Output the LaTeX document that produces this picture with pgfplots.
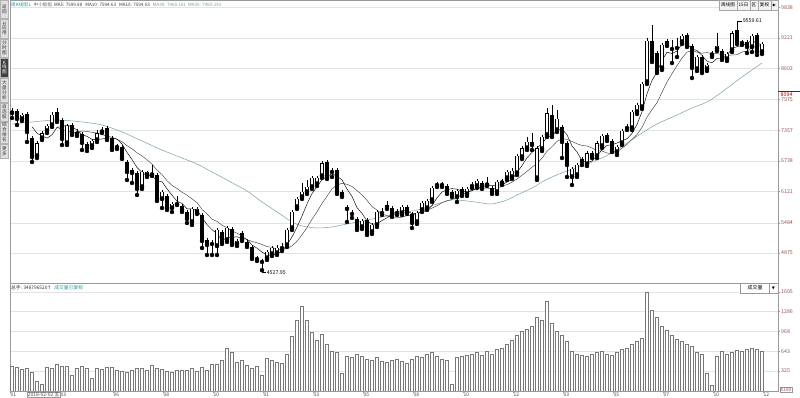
\documentclass[border=0pt]{standalone}
\usepackage{pgfplots}
\usepackage{pgfplotstable}
\pgfplotsset{compat=1.18}
\usepackage{fontspec}
\setmainfont{Noto Sans CJK SC}
\newfontfamily\sym{DejaVu Sans}
\definecolor{labred}{RGB}{160,80,80}
\definecolor{ma30}{RGB}{120,165,140}
\definecolor{teal2}{RGB}{40,150,160}
\definecolor{volgray}{RGB}{120,120,120}

\pgfplotstableread{
i o h l c
0 7703 7804 7602 7744
1 7744 7784 7461 7582
2 7582 7703 7542 7663
3 7683 7724 7118 7320
4 7198 7239 6714 6815
5 6835 7138 6794 7097
6 7198 7340 7158 7299
7 7340 7481 7299 7441
8 7461 7724 7421 7663
9 7724 7804 7522 7562
10 7562 7602 7057 7178
11 7097 7481 7057 7441
12 7461 7501 7259 7299
13 7279 7380 7239 7320
14 7279 7320 6956 7097
15 7077 7118 6936 6996
16 7037 7178 6996 7138
17 7158 7360 7118 7299
18 7320 7421 7299 7360
19 7400 7441 7158 7198
20 7198 7239 6956 6996
21 7037 7077 6976 7017
22 7017 7057 6774 6815
23 6714 6754 6350 6512
24 6552 6592 6290 6491
25 6491 6532 6047 6168
26 6209 6552 6168 6512
27 6451 6532 6411 6512
28 6451 6653 6431 6491
29 6451 6491 5926 5966
30 5966 6148 5784 6108
31 6027 6067 5744 5784
32 5784 5906 5704 5865
33 5865 6027 5845 5885
34 5825 5865 5704 5744
35 5704 5744 5481 5562
36 5502 5805 5441 5764
37 5704 5805 5663 5764
38 5643 5683 4976 5118
39 5138 5178 4835 5037
40 5077 5138 4835 5057
41 5017 5380 4835 5340
42 5300 5340 5057 5098
43 5138 5421 5098 5380
44 5360 5401 5037 5077
45 5057 5158 5017 5118
46 5279 5320 5118 5158
47 5098 5138 4997 5037
48 4997 5037 4754 4795
49 4774 4815 4714 4754
50 4694 4754 4528 4714
51 4774 4936 4734 4896
52 4855 5017 4815 4976
53 4875 5037 4835 4976
54 4976 5077 4916 4997
55 5037 5380 4997 5340
56 5380 5744 5340 5704
57 5805 6007 5764 5966
58 6007 6290 5966 6108
59 6108 6350 6067 6209
60 6209 6431 6168 6390
61 6269 6431 6229 6390
62 6431 6734 6390 6693
63 6714 6754 6370 6411
64 6532 6592 6411 6512
65 6552 6592 6067 6108
66 6108 6148 6007 6047
67 5805 5845 5502 5764
68 5683 5744 5582 5663
69 5562 5603 5340 5380
70 5401 5562 5360 5522
71 5542 5582 5239 5279
72 5300 5481 5259 5441
73 5441 5744 5401 5704
74 5683 5784 5643 5704
75 5845 5926 5764 5805
76 5784 5825 5603 5643
77 5683 5764 5643 5704
78 5683 5845 5643 5805
79 5805 5845 5663 5704
80 5663 5704 5380 5481
81 5502 5724 5461 5683
82 5744 5926 5704 5885
83 5784 5966 5744 5926
84 5946 6229 5906 6188
85 6249 6310 6209 6269
86 6249 6310 6209 6269
87 6229 6269 6067 6108
88 6108 6148 6007 6047
89 6007 6168 5906 6128
90 6168 6209 6027 6067
91 6067 6209 6027 6168
92 6229 6310 6188 6249
93 6229 6370 6188 6330
94 6290 6330 6168 6209
95 6249 6411 6229 6290
96 6188 6229 6067 6108
97 6108 6350 6067 6310
98 6290 6370 6249 6330
99 6390 6552 6350 6512
100 6411 6592 6370 6532
101 6491 6875 6451 6835
102 6815 7037 6774 6996
103 6996 7219 6956 7118
104 7118 7299 6956 7057
105 6390 7037 6350 6996
106 6976 7259 6936 7219
107 7259 7804 7219 7703
108 7663 7865 7219 7259
109 7360 7764 7320 7582
110 7421 7461 6794 7118
111 7097 7138 6411 6653
112 6411 6613 6249 6572
113 6451 6693 6411 6653
114 6774 6815 6653 6714
115 6673 6936 6633 6895
116 6895 6936 6794 6835
117 6835 7138 6794 7097
118 7037 7279 6996 7239
119 7259 7299 7138 7178
120 7138 7178 6916 6956
121 6916 7057 6855 7017
122 7097 7380 7057 7340
123 7400 7481 7360 7421
124 7400 7764 7360 7724
125 7724 7905 7683 7865
126 7825 8330 7784 8289
127 8330 9218 8289 9158
128 9158 9481 8734 8774
129 8915 8956 8511 8552
130 8612 9117 8572 9077
131 9158 9198 9057 9097
132 8996 9178 8713 9016
133 9016 9218 8835 9037
134 9138 9299 9097 9259
135 9279 9319 9037 9077
136 9057 9097 8410 8612
137 8592 8875 8552 8835
138 8835 8875 8511 8552
139 8592 8713 8552 8673
140 8875 8956 8835 8915
141 8996 9319 8956 9057
142 8956 8996 8774 8814
143 8794 8936 8754 8895
144 8976 9360 8936 9319
145 9380 9560 9097 9138
146 9117 9178 9077 9138
147 9138 9178 8915 9037
148 9037 9299 8936 9259
149 9279 9319 8875 8936
150 8936 9138 8895 9097
}\candles

\pgfplotstableread{
i v
4 7425
5 7295
6 7239
7 7194
8 7263
9 7413
10 7429
11 7457
12 7429
13 7360
14 7267
15 7231
16 7170
17 7170
18 7178
19 7198
20 7198
21 7174
22 7077
23 6908
24 6766
25 6601
26 6500
27 6439
28 6435
29 6330
30 6318
31 6172
32 6043
33 5922
34 5877
35 5768
36 5764
37 5744
38 5591
39 5449
40 5348
41 5263
42 5130
43 5182
44 5191
45 5203
46 5166
47 5154
48 5037
49 4972
50 4892
51 4839
52 4827
53 4863
54 4912
55 5037
56 5199
57 5396
58 5623
59 5865
60 6075
61 6213
62 6358
63 6419
64 6479
65 6423
66 6354
67 6168
68 6019
69 5792
70 5675
71 5522
72 5457
73 5465
74 5530
75 5586
76 5659
77 5712
78 5732
79 5732
80 5667
81 5675
82 5712
83 5736
84 5833
85 5990
86 6108
87 6152
88 6176
89 6164
90 6124
91 6104
92 6132
93 6188
94 6205
95 6249
96 6237
97 6249
98 6249
99 6310
100 6358
101 6504
102 6641
103 6798
104 6908
105 7000
106 7077
107 7219
108 7247
109 7352
110 7376
111 7263
112 7037
113 6916
114 6742
115 6697
116 6734
117 6839
118 6956
119 7049
120 7061
121 7097
122 7146
123 7182
124 7291
125 7473
126 7728
127 8091
128 8362
129 8528
130 8770
131 8932
132 8903
133 8956
134 9097
135 9097
136 9000
137 8964
138 8867
139 8750
140 8717
141 8806
142 8802
143 8871
144 9000
145 9045
146 9061
147 9105
148 9178
149 9101
150 9093
}\mafive

\pgfplotstableread{
i v
9 7419
10 7362
11 7348
12 7312
13 7312
14 7340
15 7330
16 7314
17 7299
18 7269
19 7233
20 7215
21 7172
22 7124
23 7043
24 6982
25 6899
26 6837
27 6758
28 6671
29 6548
30 6459
31 6336
32 6241
33 6178
34 6104
35 6043
36 5968
37 5893
38 5756
39 5663
40 5558
41 5514
42 5437
43 5387
44 5320
45 5275
46 5215
47 5142
48 5110
49 5081
50 5047
51 5003
52 4991
53 4950
54 4942
55 4964
56 5019
57 5112
58 5243
59 5388
60 5556
61 5706
62 5877
63 6021
64 6172
65 6249
66 6283
67 6263
68 6219
69 6136
70 6049
71 5938
72 5813
73 5742
74 5661
75 5631
76 5590
77 5584
78 5599
79 5631
80 5627
81 5667
82 5712
83 5734
84 5782
85 5829
86 5891
87 5932
88 5956
89 5999
90 6057
91 6106
92 6142
93 6182
94 6184
95 6186
96 6170
97 6190
98 6219
99 6257
100 6304
101 6370
102 6445
103 6524
104 6609
105 6679
106 6790
107 6930
108 7023
109 7130
110 7188
111 7170
112 7128
113 7081
114 7047
115 7037
116 6998
117 6938
118 6936
119 6895
120 6879
121 6916
122 6992
123 7069
124 7170
125 7267
126 7413
127 7619
128 7772
129 7909
130 8122
131 8330
132 8497
133 8659
134 8812
135 8934
136 8966
137 8934
138 8911
139 8923
140 8907
141 8903
142 8883
143 8869
144 8875
145 8881
146 8934
147 8954
148 9024
149 9051
150 9069
}\maten

\pgfplotstableread{
i v
0 7481
4 7522
9 7562
14 7522
18 7461
22 7320
26 7138
30 6956
34 6794
37 6673
40 6512
43 6350
47 6128
50 5906
53 5704
56 5502
58 5421
61 5380
64 5401
67 5461
70 5522
73 5582
76 5643
79 5704
82 5764
85 5865
88 5946
91 5926
94 5885
96 5865
99 5946
101 6047
104 6188
106 6310
108 6411
111 6532
114 6633
117 6754
120 6895
123 7097
126 7299
129 7481
133 7663
136 7804
139 7926
142 8128
146 8431
150 8713
}\mathirty

\pgfplotstableread{
i v
0 394
1 384
2 351
3 362
4 308
5 162
6 113
7 384
8 367
9 437
10 405
11 405
12 259
13 367
14 405
15 373
16 200
17 367
18 351
19 384
20 384
21 330
22 313
23 297
24 340
25 373
26 367
27 340
28 416
29 362
30 351
31 324
32 297
33 330
34 330
35 330
36 373
37 324
38 384
39 340
40 437
41 437
42 502
43 691
44 621
45 459
46 502
47 421
48 367
49 405
50 259
51 529
52 502
53 459
54 448
55 600
56 891
57 1140
58 1380
59 1150
60 950
61 820
62 920
63 760
64 650
65 620
66 280
67 560
68 540
69 600
70 560
71 520
72 500
73 540
74 480
75 460
76 500
77 520
78 480
79 450
80 520
81 560
82 540
83 600
84 620
85 560
86 520
87 500
88 110
89 540
90 560
91 580
92 600
93 620
94 580
95 640
96 600
97 680
98 700
99 760
100 820
101 900
102 960
103 1000
104 1050
105 1200
106 1150
107 1450
108 1100
109 960
110 900
111 800
112 640
113 600
114 580
115 560
116 600
117 620
118 640
119 600
120 580
121 620
122 680
123 700
124 760
125 800
126 860
127 1605
128 1300
129 1200
130 1050
131 980
132 900
133 840
134 800
135 760
136 720
137 620
138 600
139 280
140 100
141 560
142 640
143 600
144 620
145 660
146 650
147 680
148 690
149 670
150 640
}\volume

\begin{document}
\begin{tikzpicture}[x=1bp,y=1bp]
\path[use as bounding box] (0bp,0bp) rectangle (800bp,398bp);
\fill[white] (0bp,0bp) rectangle (800bp,398bp);

% ---------------- price panel ----------------
\begin{axis}[
  at={(10bp,115bp)}, anchor=south west, scale only axis,
  width=768bp, height=283bp,
  xmin=-0.4, xmax=153.2, ymin=4269, ymax=9986,
  axis line style={draw=gray!80, line width=0.6bp},
  xtick=\empty,
  ytick={4875,5484,6121,6738,7357,7975,8603,9221,9838},
  yticklabels={4875,5484,6121,6738,7357,7975,8603,9221,9838},
  ytick pos=right, yticklabel pos=right,
  tick align=outside, major tick length=2bp,
  tick style={gray!80, line width=0.5bp},
  yticklabel style={font=\fontsize{5.3}{6}\selectfont, text=labred, inner sep=1bp},
  ymajorgrids, grid style={gray!22, line width=0.5bp},
  clip=true,
]
% MA lines
\addplot[ma30, line width=0.5bp, smooth, no marks] table[x=i,y=v]{\mathirty};
\addplot[black!75, line width=0.45bp, no marks] table[x=i,y=v]{\maten};
\addplot[black, line width=0.45bp, no marks] table[x=i,y=v]{\mafive};
% wicks
\addplot[only marks, mark=none,
  error bars/.cd, y dir=plus, y explicit, error mark=none,
  error bar style={draw=black, line width=0.45bp}]
  table[x=i, y=l, y error expr=\thisrow{h}-\thisrow{l}]{\candles};
% bearish bodies
\addplot[only marks, mark=none,
  restrict expr to domain={\thisrow{o}-\thisrow{c}}{1:100000},
  error bars/.cd, y dir=plus, y explicit, error mark=none,
  error bar style={draw=black, line width=3.6bp}]
  table[x=i, y=c, y error expr=\thisrow{o}-\thisrow{c}]{\candles};
% bullish bodies (outline + white inside)
\addplot[only marks, mark=none,
  restrict expr to domain={\thisrow{c}-\thisrow{o}}{1:100000},
  error bars/.cd, y dir=plus, y explicit, error mark=none,
  error bar style={draw=black, line width=3.6bp}]
  table[x=i, y=o, y error expr=\thisrow{c}-\thisrow{o}]{\candles};
\addplot[only marks, mark=none,
  restrict expr to domain={\thisrow{c}-\thisrow{o}}{25:100000},
  error bars/.cd, y dir=plus, y explicit, error mark=none,
  error bar style={draw=white, line width=2.6bp}]
  table[x=i, y expr=\thisrow{o}+10, y error expr=\thisrow{c}-\thisrow{o}-20]{\candles};
% extreme labels
\draw[black, line width=0.4bp] (axis cs:145,9560) -- ++(5bp,0bp)
  node[right, inner sep=0.6bp, font=\fontsize{5.3}{6}\selectfont]{9559.61};
\draw[black, line width=0.4bp] (axis cs:50,4528) -- ++(0bp,-2bp) -- ++(4bp,0bp)
  node[right, inner sep=0.6bp, font=\fontsize{5.3}{6}\selectfont]{4527.95};
\end{axis}

% ---------------- volume panel ----------------
\begin{axis}[
  at={(10bp,7bp)}, anchor=south west, scale only axis,
  width=768bp, height=108bp,
  xmin=-0.4, xmax=153.2, ymin=0, ymax=1750,
  axis line style={draw=gray!80, line width=0.6bp},
  ybar, bar width=3.4bp,
  xtick={-0.4,9.6,20.2,30.2,40.2,50.2,60.2,70.2,80.2,90.2,100.2,110.2,120.2,130.2,140.2,150.2},
  xticklabels={01,03,06,08,10,01,03,05,08,10,12,03,05,07,10,12},
  xtick pos=bottom,
  xticklabel style={font=\fontsize{5}{5.5}\selectfont, text=black!70, anchor=north west, inner sep=0.5bp, yshift=0.5bp},
  ytick={325,643,968,1286,1605},
  yticklabels={325,643,968,1286,1605},
  ytick pos=right, yticklabel pos=right,
  tick align=outside, major tick length=2bp,
  tick style={gray!80, line width=0.5bp},
  yticklabel style={font=\fontsize{5.3}{6}\selectfont, text=labred, inner sep=1bp},
  ymajorgrids, grid style={gray!22, line width=0.5bp},
]
\addplot[draw=volgray, fill=white, line width=0.6bp] table[x=i,y=v]{\volume};
\end{axis}

% ---------------- decorations ----------------
\node[anchor=west, inner sep=0, font=\fontsize{4.6}{5}\selectfont] at (11bp,393bp)
 {\textcolor{teal2}{周K线图{\sym\char"2193}}\hspace{2bp}\textcolor{black!60}{中小板指}\hspace{2bp}\textcolor{black!75}{MA5: 7599.88\hspace{3bp}MA10: 7594.63\hspace{3bp}MA10: 7594.63}\hspace{3bp}\textcolor{ma30}{MA30: 7469.181\hspace{2bp}MA30: 7469.181}};
\node[anchor=west, inner sep=0, font=\fontsize{4.8}{5.5}\selectfont] at (11bp,110bp)
 {\textcolor{black!80}{总手: 348796520{\sym\char"2191}}\hspace{3bp}\textcolor{teal2}{成交量已复权}};
\draw[gray!80, fill=white, line width=0.5bp] (740bp,115bp) rectangle (778bp,105bp);
\draw[gray!80, line width=0.5bp] (769bp,115bp) -- (769bp,105bp);
\node[font=\fontsize{5}{6}\selectfont, inner sep=0] at (755bp,110bp) {成交量};
\node[font=\fontsize{4}{4}\selectfont\sym, inner sep=0] at (773.5bp,110bp) {▼};
\node[draw=gray!80, line width=0.4bp, font=\fontsize{5}{5.5}\selectfont, text=labred, inner sep=0.6bp, anchor=west] at (779.5bp,8bp) {X100};
\node[draw=gray!80, fill=white, line width=0.4bp, font=\fontsize{5}{5.5}\selectfont, text=black!70, inner sep=0.6bp, anchor=south west] at (27bp,0.3bp) {2018-02-02 五};
\draw[red!70!black, line width=0.5bp] (778bp,307bp) -- (800bp,307bp);
\node[font=\fontsize{5.3}{6}\selectfont, text=red!70!black, anchor=west, inner sep=1bp] at (779.5bp,303.5bp) {8094};
\foreach \xa/\xb/\t in {719/737/周线图, 737/750/15日, 750/758/区, 758/771/复权}{
  \draw[gray!70, fill=gray!10, line width=0.4bp] (\xa bp,398bp) rectangle (\xb bp,388bp);
  \node[font=\fontsize{4.6}{5}\selectfont, inner sep=0] at ({(\xa+\xb)/2*1bp},393bp) {\t};
}
\draw[gray!70, fill=gray!10, line width=0.4bp] (771bp,398bp) rectangle (778bp,388bp);
\node[font=\fontsize{4}{4}\selectfont\sym, inner sep=0] at (774.5bp,393bp) {▶};
\fill[gray!30] (0bp,398bp) rectangle (8.5bp,240bp);
\foreach \ya/\yb/\t in {398/380/{返\\回}, 379/360/{H\\应\\用}, 359/341/{分\\时\\图}, 320/296/{大\\盘\\分\\析}, 295/277/{自\\选\\股}, 276/255/{综\\合\\排\\名}, 254/240/{更\\多}}{
  \draw[gray!60, fill=gray!25, line width=0.4bp] (0.3bp,\ya bp) rectangle (8.3bp,\yb bp);
  \node[font=\fontsize{4.6}{5}\selectfont, align=center, inner sep=0, text=black!80] at (4.3bp,{(\ya+\yb)/2*1bp}) {\t};
}
\draw[gray!60, fill=black!75, line width=0.4bp] (0.3bp,340bp) rectangle (8.3bp,321bp);
\node[font=\fontsize{4.6}{5}\selectfont, align=center, inner sep=0, text=white] at (4.3bp,330.5bp) {K\\线\\图};
\end{tikzpicture}
\end{document}
